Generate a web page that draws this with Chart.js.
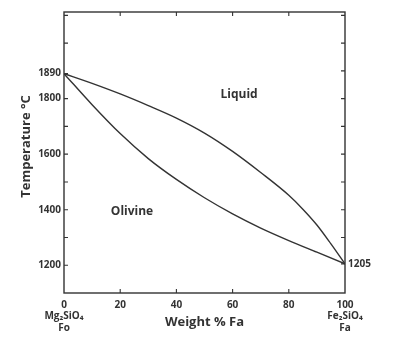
<!DOCTYPE html>
<html><head><meta charset="utf-8">
<script src="https://cdn.jsdelivr.net/npm/chart.js@4.4.1/dist/chart.umd.min.js"></script>
<style>html,body{margin:0;padding:0;background:#fff}#wrap{width:394px;height:361px}</style>
</head><body><div id="wrap"><canvas id="c" width="394" height="361"></canvas></div>
<script>
const liquidusX = [0,10,20,30,40,50,60,70,80,85,90,95,100];
const liquidus  = [1890,1855,1817,1775,1730,1676,1610,1534,1452,1402,1345,1277,1205];
const solidusX  = [0,10,20,30,40,50,60,70,80,90,100];
const solidus   = [1890,1778,1674,1584,1509,1443,1385,1334,1289,1247,1205];
const xTicks = [0,20,40,60,80,100];
const yLeftTicks = [1200,1300,1400,1500,1600,1700,1800,1890,2000,2100];
const yLeftLabels = [1200,1400,1600,1800,1890];
const yRightTicks = [1205,1300,1400,1500,1600,1700,1800,1900,2000,2100];
const yRightLabels = [1205];
const regionLabels = [{text:'Liquid', x:62.3, y:1815},{text:'Olivine', x:24.2, y:1393}];
const xTitle = 'Weight % Fa';
const yTitle = 'Temperature °C';
const endLabels = {0:['0','Mg₂SiO₄','Fo'], 100:['100','Fe₂SiO₄','Fa']};

const INK = '#333';
const FONT = '"Open Sans", "DejaVu Sans", sans-serif';

const decor = {
  id:'decor',
  afterDraw(chart){
    const {ctx, chartArea:a, scales} = chart;
    ctx.save();
    ctx.strokeStyle = INK; ctx.lineWidth = 1.4;
    ctx.strokeRect(a.left, a.top, a.right-a.left, a.bottom-a.top);
    const L = 4;
    ctx.lineWidth = 1.1;
    ctx.beginPath();
    scales.x.ticks.forEach(t=>{
      const px = scales.x.getPixelForValue(t.value);
      if (t.value>0 && t.value<100){
        ctx.moveTo(px,a.bottom); ctx.lineTo(px,a.bottom-L);
        ctx.moveTo(px,a.top); ctx.lineTo(px,a.top+L);
      }
    });
    scales.y.ticks.forEach(t=>{
      const py = scales.y.getPixelForValue(t.value);
      ctx.moveTo(a.left,py); ctx.lineTo(a.left+L,py);
    });
    scales.y2.ticks.forEach(t=>{
      const py = scales.y2.getPixelForValue(t.value);
      ctx.moveTo(a.right,py); ctx.lineTo(a.right-L,py);
    });
    ctx.stroke();
    ctx.fillStyle = INK;
    ctx.textAlign='center'; ctx.textBaseline='middle';
    ctx.font = 'bold 12px '+FONT;
    regionLabels.forEach(r=>{
      ctx.fillText(r.text, scales.x.getPixelForValue(r.x), scales.y.getPixelForValue(r.y));
    });
    ctx.font = 'bold 13px '+FONT;
    ctx.fillText(xTitle, (a.left+a.right)/2, 322);
    ctx.save();
    ctx.translate(26,(a.top+a.bottom)/2-6);
    ctx.rotate(-Math.PI/2);
    ctx.fillText(yTitle,0,0);
    ctx.restore();
    ctx.restore();
  }
};

new Chart(document.getElementById('c'), {
  type:'line',
  data:{datasets:[
    {data: liquidusX.map((x,i)=>({x, y:liquidus[i]})), borderColor:INK, borderWidth:1.4, pointRadius:0, cubicInterpolationMode:'monotone', fill:false},
    {data: solidusX.map((x,i)=>({x, y:solidus[i]})), borderColor:INK, borderWidth:1.4, pointRadius:0, cubicInterpolationMode:'monotone', fill:false}
  ]},
  options:{
    responsive:false, animation:false, devicePixelRatio:1,
    layout:{padding:{top:12,left:0,right:0,bottom:0}},
    plugins:{legend:{display:false}, tooltip:{enabled:false}},
    scales:{
      x:{type:'linear', min:0, max:100, grid:{display:false, drawTicks:false}, border:{display:false},
        afterBuildTicks(s){ s.ticks = xTicks.map(v=>({value:v})); },
        afterFit(s){ s.height = 68; },
        ticks:{padding:6, color:INK, maxRotation:0, autoSkip:false, font:{family:FONT, weight:'bold', size:10, lineHeight:1.15},
          callback(v){ return endLabels[v] || String(v); }}
      },
      y:{type:'linear', position:'left', min:1100, max:2112, grid:{display:false, drawTicks:false}, border:{display:false},
        afterBuildTicks(s){ s.ticks = yLeftTicks.map(v=>({value:v})); },
        afterFit(s){ s.width = 64; },
        ticks:{padding:3, color:INK, autoSkip:false, font:{family:FONT, weight:'bold', size:10},
          callback(v){ return yLeftLabels.includes(v) ? String(v) : ''; }}
      },
      y2:{type:'linear', position:'right', min:1100, max:2112, grid:{display:false, drawTicks:false}, border:{display:false},
        afterBuildTicks(s){ s.ticks = yRightTicks.map(v=>({value:v})); },
        afterFit(s){ s.width = 49; },
        ticks:{padding:3, color:INK, autoSkip:false, font:{family:FONT, weight:'bold', size:10},
          callback(v){ return yRightLabels.includes(v) ? String(v) : ''; }}
      }
    }
  },
  plugins:[decor]
});
</script></body></html>
